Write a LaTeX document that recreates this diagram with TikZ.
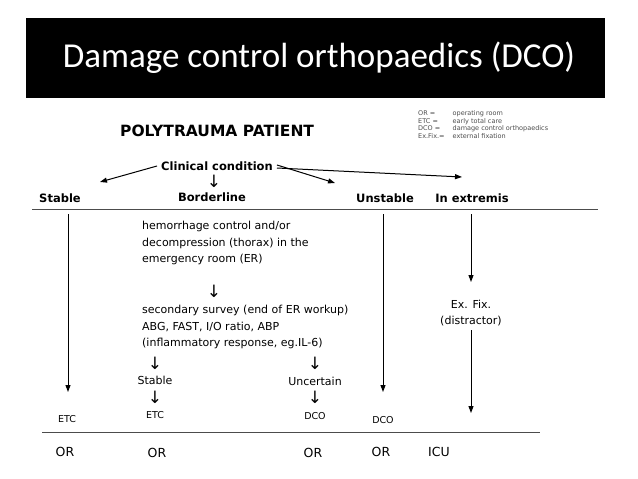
\documentclass[tikz,border=0pt]{standalone}
\usepackage{fontspec}
\setmainfont{DejaVu Sans}
\newfontfamily\titlefont{Carlito}
\usetikzlibrary{arrows.meta}
\begin{document}
\begin{tikzpicture}[x=1pt,y=-1pt,
  txt/.style={inner sep=0pt,font=\fontsize{11}{16.5}\selectfont},
  hd/.style={inner sep=0pt,font=\fontsize{11.5}{13}\selectfont\bfseries},
  arr/.style={-{Triangle[length=7pt,width=5pt]},line width=1pt},
  dn/.style={inner sep=0pt,font=\fontsize{17}{17}\selectfont}]
\useasboundingbox (0,0) rectangle (638,479);
\fill[black] (26,18) rectangle (605,98);
\node[text=white,font=\titlefont\fontsize{35}{36}\selectfont] (title) at (319,58) {Damage control orthopaedics (DCO)};
\node[font=\fontsize{15.5}{17}\selectfont\bfseries,anchor=west,inner sep=0pt] (poly) at (120,131) {POLYTRAUMA PATIENT};
\node[anchor=north west,inner sep=0pt,font=\fontsize{6.5}{7.6}\selectfont,text=black!70] (leg) at (418,110) {%
\begin{tabular}{@{}l@{\hspace{8pt}}l@{}}OR = & operating room\\ ETC = & early total care\\ DCO = & damage control orthopaedics\\ Ex.Fix.= & external fixation\end{tabular}};
\node[hd] (cc) at (217,166) {Clinical condition};
\node[dn] (d0) at (214,181) {↓};
\node[hd] (st) at (60,198) {Stable};
\node[hd] (bl) at (212,197) {Borderline};
\node[hd] (un) at (385,198) {Unstable};
\node[hd] (ie) at (472,198) {In extremis};
\coordinate (pst) at (100,182);
\coordinate (pun) at (335,183);
\coordinate (pie) at (462,177);
\draw[arr] ([xshift=-4pt]cc.west) -- (pst);
\draw[arr] ([xshift=4pt,yshift=1pt]cc.east) -- (pun);
\draw[arr] ([xshift=4pt,yshift=-2pt]cc.east) -- (pie);
\draw[line width=0.8pt,black!70] (32,209) -- (598,209);
\node[txt,anchor=north west,align=left] (b1) at (142,221) {hemorrhage control and/or\\decompression (thorax) in the\\emergency room (ER)};
\node[dn] (d1) at (214,291) {↓};
\node[txt,anchor=north west,align=left] (b2) at (142,305) {secondary survey (end of ER workup)\\ABG, FAST, I/O ratio, ABP\\(inflammatory response, eg.IL-6)};
\node[dn] (d2) at (155,363) {↓};
\node[dn] (d3) at (315,363) {↓};
\node[txt] (s2) at (155,380) {Stable};
\node[txt] (u2) at (315,381) {Uncertain};
\node[dn] (d4) at (155,397) {↓};
\node[dn] (d5) at (315,397) {↓};
\node[txt,font=\fontsize{9.5}{10}\selectfont] (e2) at (155,415) {ETC};
\node[txt,font=\fontsize{9.5}{10}\selectfont] (c2) at (315,416) {DCO};
\node[txt,font=\fontsize{9.5}{10}\selectfont] (e1) at (67,419) {ETC};
\node[txt,font=\fontsize{9.5}{10}\selectfont] (c1) at (383,420) {DCO};
\coordinate (a1) at (68,214); \coordinate (a2) at (68,392);
\draw[arr] (a1) -- (a2);
\coordinate (a3) at (383,214); \coordinate (a4) at (383,392);
\draw[arr] (a3) -- (a4);
\coordinate (a5) at (471,214);
\node[txt,align=center] (ex) at (471,313) {Ex. Fix.\\(distractor)};
\coordinate (a6) at (471,282);
\draw[arr] (a5) -- (a6);
\coordinate (a7) at (471,413);
\draw[arr] ([yshift=-4pt]ex.south) -- (a7);
\draw[line width=0.8pt,black!70] (42,432) -- (540,432);
\node[txt,font=\fontsize{12.5}{13}\selectfont] (o1) at (65,452) {OR};
\node[txt,font=\fontsize{12.5}{13}\selectfont] (o2) at (157,453) {OR};
\node[txt,font=\fontsize{12.5}{13}\selectfont] (o3) at (313,453) {OR};
\node[txt,font=\fontsize{12.5}{13}\selectfont] (o4) at (381,452) {OR};
\node[txt,font=\fontsize{12.5}{13}\selectfont] (o5) at (439,452) {ICU};
\end{tikzpicture}
\end{document}
